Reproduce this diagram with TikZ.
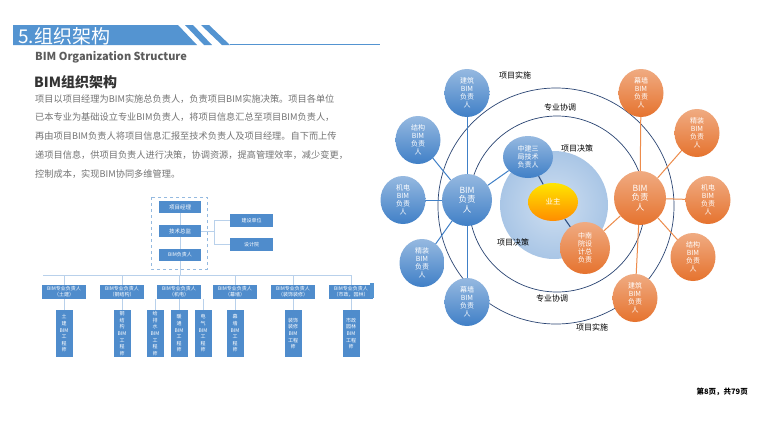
\documentclass[tikz,border=0pt]{standalone}
\usepackage{fontspec}
\setmainfont{Noto Sans CJK SC}
\usetikzlibrary{shapes.geometric}
\definecolor{hdblue}{rgb}{0.33,0.58,0.82}
\definecolor{boxblue}{rgb}{0.31,0.55,0.80}
\definecolor{txtgray}{rgb}{0.45,0.45,0.45}
\definecolor{ringblue}{rgb}{0.17,0.27,0.45}
\definecolor{ballblue}{rgb}{0.25,0.50,0.78}
\definecolor{ballorange}{rgb}{0.90,0.45,0.18}
\definecolor{linkorange}{rgb}{0.93,0.55,0.30}
\tikzset{
  orgbox/.style={fill=boxblue,text=white,font=\fontsize{5.5}{6}\selectfont,inner sep=0pt,align=center},
  engbox/.style={orgbox,minimum width=17pt,minimum height=47pt,font=\fontsize{5}{6.6}\selectfont},
  leadbox/.style={orgbox,minimum width=44pt,minimum height=14pt,font=\fontsize{5}{6}\selectfont},
  orgline/.style={draw=boxblue!40,line width=0.6pt},
  blueball/.style={ellipse,inner sep=0pt,text=white,align=center,top color=ballblue!55,bottom color=ballblue,draw=none,
    font=\fontsize{7}{8}\selectfont},
  orangeball/.style={blueball,top color=ballorange!60,bottom color=ballorange},
  bluelink/.style={draw=ballblue,line width=1pt},
  orangelink/.style={draw=linkorange,line width=1pt},
  ringlabel/.style={font=\fontsize{8}{9}\selectfont,text=black}
}
\begin{document}
\begin{tikzpicture}[x=1pt,y=-1pt]
\useasboundingbox (0,0) rectangle (760,429);
\fill[white] (0,0) rectangle (760,429);
% header
\fill[hdblue] (13,25) -- (178,25) -- (197,45) -- (13,45) -- cycle;
\fill[hdblue] (185,25) -- (193,25) -- (212,45) -- (204,45) -- cycle;
\fill[hdblue] (201,25) -- (209,25) -- (230,45) -- (222,45) -- cycle;
\draw[hdblue,line width=1.2pt] (230,44.5) -- (380,44.5);
\node[anchor=west,text=white,font=\fontsize{19}{20}\selectfont,inner sep=0pt] (title) at (18,36) {5.组织架构};
\node[anchor=west,text=txtgray!80!black,font=\fontsize{11}{12}\selectfont\bfseries,inner sep=0pt] (subtitle) at (35,57) {BIM Organization Structure};
\node[anchor=west,text=black!80,font=\fontsize{14}{15}\selectfont\bfseries,inner sep=0pt] (heading) at (34,82) {BIM组织架构};
\node[anchor=north west,text=txtgray,font=\fontsize{9.2}{18.8}\selectfont,inner sep=0pt,align=left] (para) at (35,94)
  {项目以项目经理为BIM实施总负责人，负责项目BIM实施决策。项目各单位\\
   已本专业为基础设立专业BIM负责人，将项目信息汇总至项目BIM负责人，\\
   再由项目BIM负责人将项目信息汇报至技术负责人及项目经理。自下而上传\\
   递项目信息，供项目负责人进行决策，协调资源，提高管理效率，减少变更，\\
   控制成本，实现BIM协同多维管理。};
% org chart
\draw[boxblue!60,dashed,line width=0.4pt] (151,197) rectangle (207,269);
\node[orgbox,minimum width=42pt,minimum height=12pt] (pm) at (180,207) {项目经理};
\node[orgbox,minimum width=42pt,minimum height=12pt] (td) at (180,231) {技术总监};
\node[orgbox,minimum width=42pt,minimum height=12pt,font=\fontsize{5}{6}\selectfont] (bim) at (180,255) {BIM负责人};
\node[orgbox,minimum width=43pt,minimum height=13pt,font=\fontsize{5}{6}\selectfont] (owner) at (251.5,220.5) {建设单位};
\node[orgbox,minimum width=43pt,minimum height=13pt,font=\fontsize{5}{6}\selectfont] (design) at (251.5,244.5) {设计院};
\draw[orgline] (pm) -- (td);
\draw[orgline] (td) -- (bim);
\draw[orgline] (td.east) -- (214,231) coordinate (fork);
\draw[orgline] (fork |- owner) -- (fork |- design);
\draw[orgline] (fork |- owner) -- (owner.west);
\draw[orgline] (fork |- design) -- (design.west);
\coordinate (bus) at (180,275);
\draw[orgline] (bim.south) -- (bus);
\draw[orgline] (43,275) -- (351,275);
\foreach \x/\n/\t in {64/la/土建,122/lb/钢结构,179/lc/机电,235/ld/幕墙,293/le/装饰装修,351/lf/市政，园林}{
  \node[leadbox] (\n) at (\x,292) {BIM专业负责人\\（\t）};
  \draw[orgline] (\x,275) -- (\n.north);
}
\foreach \x/\n/\up/\t in {64/ea/la/土\\建\\BIM\\工\\程\\师,122/eb/lb/钢\\结\\构\\BIM\\工\\程\\师,
  155/ec/lc/给\\排\\水\\BIM\\工\\程\\师,179/ed/lc/暖\\通\\BIM\\工\\程\\师,203/ee/lc/电\\气\\BIM\\工\\程\\师,
  235/ef/ld/幕\\墙\\BIM\\工\\程\\师,293/eg/le/装饰\\装修\\BIM\\工程\\师,351/eh/lf/市政\\园林\\BIM\\工程\\师}{
  \node[engbox] (\n) at (\x,333.5) {\t};
  \draw[orgline] (\up.south -| \n.north) -- (\n.north);
}
% ring diagram
\draw[ringblue,line width=0.7pt] (556,206) circle (118);
\draw[ringblue,line width=0.7pt] (557,204) circle (88);
\shade[inner color=ballblue!25,outer color=ballblue!45] (554,205) circle (54);
\node[ellipse,minimum width=50pt,minimum height=38pt,inner sep=0pt,top color=yellow!80!orange,bottom color=orange!90!yellow,text=white,font=\fontsize{7.5}{8}\selectfont] (yezhu) at (553,202) {业主};
\node[blueball,minimum width=50pt,minimum height=42pt] (zj) at (528,157) {中建三\\局技术\\负责人};
\node[orangeball,minimum width=50pt,minimum height=52pt] (zn) at (585,248) {中南\\院设\\计总\\负责};
\node[blueball,minimum width=50pt,minimum height=52pt,font=\fontsize{8.5}{9.5}\selectfont] (lbim) at (467,200) {BIM\\负责\\人};
\node[orangeball,minimum width=52pt,minimum height=54pt,font=\fontsize{8.5}{9.5}\selectfont] (rbim) at (640,198) {BIM\\负责\\人};
\draw[draw=ringblue!80!ballblue,line width=1.1pt] (zj) -- (yezhu);
\draw[draw=ringblue!80!ballblue,line width=1.1pt] (yezhu) -- (zn);
\draw[bluelink] (lbim) -- (zj);
\draw[orangelink] (zn) -- (rbim);
\foreach \x/\y/\n/\t in {467/93/ls1/建筑,418/140/ls2/结构,403/200/ls3/机电,422/263/ls4/精装,467/302/ls5/幕墙}{
  \draw[bluelink] (lbim) -- (\x,\y);
  \node[blueball,minimum width=45pt,minimum height=48pt] (\n) at (\x,\y) {\t\\BIM\\负责\\人};
}
\foreach \x/\y/\n/\t in {641/93/rs1/幕墙,697/133/rs2/精装,708/200/rs3/机电,693/257/rs4/结构,635/298/rs5/建筑}{
  \draw[orangelink] (rbim) -- (\x,\y);
  \node[orangeball,minimum width=45pt,minimum height=48pt] (\n) at (\x,\y) {\t\\BIM\\负责\\人};
}
\node[ringlabel] (impl1) at (515,75) {项目实施};
\node[ringlabel] (coord1) at (560,107) {专业协调};
\node[ringlabel] (dec1) at (577,148) {项目决策};
\node[ringlabel] (dec2) at (513,242) {项目决策};
\node[ringlabel] (coord2) at (552,298) {专业协调};
\node[ringlabel] (impl2) at (592,327) {项目实施};
\fill[hdblue] (370,283) rectangle (374,298);
% footer
\node[anchor=east,font=\fontsize{7.5}{8}\selectfont\bfseries,inner sep=0pt] (page) at (748,392) {第8页，共79页};
\end{tikzpicture}
\end{document}
